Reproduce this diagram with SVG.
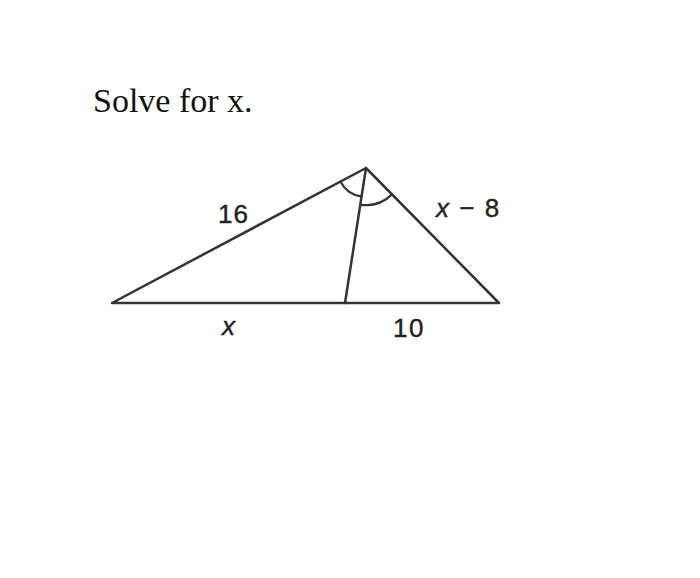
<svg xmlns="http://www.w3.org/2000/svg" width="700" height="578" viewBox="0 0 700 578">
<style>
.ln{stroke:#333;stroke-width:2.5;fill:none;stroke-linecap:round;stroke-linejoin:round}
.arc{stroke:#333;stroke-width:2.2;fill:none}
.lbl{font-family:"Liberation Sans",Arial,sans-serif;font-size:26px;fill:#222;stroke:#222;stroke-width:0.4}
.it{font-style:italic}
</style>
<rect width="700" height="578" fill="#fff"/>
<text x="93" y="112" font-family="Liberation Serif,'Times New Roman',serif" font-size="34" fill="#111">Solve for x.</text>
<g id="triangle">
<polygon class="ln" points="112,303 366,168 499,303"/>
<line class="ln" x1="366" y1="168" x2="345" y2="303"/>
</g>
<g id="angle-marks">
<path class="arc" d="M340.4,181.6 A29,29 0 0 0 361.5,196.7"/>
<path class="arc" d="M360.3,204.6 A37,37 0 0 0 392,194.4"/>
</g>
<g id="labels">
<text class="lbl" x="218" y="223" letter-spacing="1">16</text>
<text class="lbl" x="436" y="217" letter-spacing="1.5"><tspan class="it">x</tspan> − 8</text>
<text class="lbl it" x="222" y="335">x</text>
<text class="lbl" x="393" y="337" letter-spacing="1.5">10</text>
</g>
</svg>
